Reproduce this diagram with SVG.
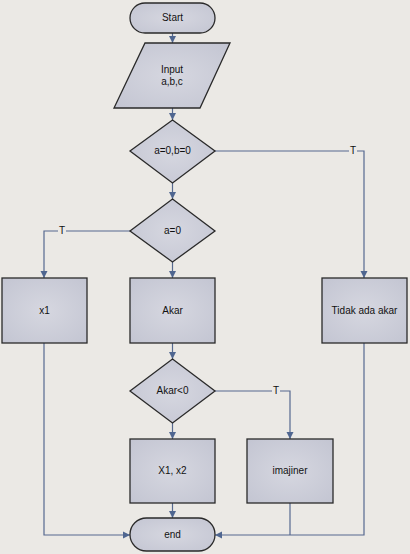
<svg xmlns="http://www.w3.org/2000/svg" width="410" height="554" viewBox="0 0 410 554">
<defs>
<radialGradient id="g" cx="50%" cy="50%" r="70%">
<stop offset="0" stop-color="#d6d7e0"/>
<stop offset="1" stop-color="#c3c5d2"/>
</radialGradient>
<marker id="a" markerWidth="8" markerHeight="8" refX="7" refY="4" orient="auto" markerUnits="userSpaceOnUse">
<path d="M0,0.5 L7,4 L0,7.5 Z" fill="#4f6690"/>
</marker>
</defs>
<style>
.n{fill:url(#g);stroke:#2a2a2a;stroke-width:1.3}
.t{font-family:"Liberation Sans",Arial,sans-serif;font-size:10px;fill:#111;text-anchor:middle;dominant-baseline:middle}
.c{fill:none;stroke:#56698f;stroke-width:1.2;marker-end:url(#a)}
.l{fill:none;stroke:#56698f;stroke-width:1.2}
.bg{fill:#ebe9e5}
</style>
<rect width="410" height="554" fill="#ebe9e5"/>
<g id="connectors">
<path class="c" d="M172.5,33 V43"/>
<path class="c" d="M172.5,108 V120"/>
<path class="c" d="M172.5,183 V199"/>
<path class="c" d="M172.5,262 V278"/>
<path class="c" d="M215,151 H364 V278"/>
<path class="c" d="M130,231 H44 V278"/>
<path class="c" d="M172.5,343 V359"/>
<path class="c" d="M172.5,423 V439"/>
<path class="c" d="M215,391 H290 V439"/>
<path class="c" d="M172.5,503 V518"/>
<path class="c" d="M44,343 V535 H130"/>
<path class="c" d="M364,343 V535 H215"/>
<path class="l" d="M290,503 V535"/>
<rect class="bg" x="349" y="146" width="8" height="10"/>
<text class="t" x="353" y="151">T</text>
<rect class="bg" x="58" y="226" width="8" height="10"/>
<text class="t" x="62" y="231">T</text>
<rect class="bg" x="272" y="386" width="8" height="10"/>
<text class="t" x="276" y="391">T</text>
</g>
<g id="start">
<rect class="n" x="130" y="3" width="85" height="30" rx="15" ry="15"/>
<text class="t" x="172.5" y="18">Start</text>
</g>
<g id="input">
<polygon class="n" points="145,43 230,43 200,108 114,108"/>
<text class="t" x="172" y="70">Input</text>
<text class="t" x="172" y="82">a,b,c</text>
</g>
<g id="dec1">
<polygon class="n" points="172.5,120 215,151 172.5,183 130,151"/>
<text class="t" x="172.5" y="151">a=0,b=0</text>
</g>
<g id="dec2">
<polygon class="n" points="172.5,199 215,231 172.5,262 130,231"/>
<text class="t" x="172.5" y="231">a=0</text>
</g>
<g id="x1">
<rect class="n" x="2" y="278" width="85" height="65"/>
<text class="t" x="44.5" y="311">x1</text>
</g>
<g id="akar">
<rect class="n" x="130" y="278" width="85" height="65"/>
<text class="t" x="172.5" y="311">Akar</text>
</g>
<g id="tidak">
<rect class="n" x="322" y="278" width="85" height="65"/>
<text class="t" x="364.5" y="311">Tidak ada akar</text>
</g>
<g id="dec3">
<polygon class="n" points="172.5,359 215,391 172.5,423 130,391"/>
<text class="t" x="172.5" y="391">Akar&lt;0</text>
</g>
<g id="x1x2">
<rect class="n" x="130" y="439" width="85" height="64"/>
<text class="t" x="172.5" y="471">X1, x2</text>
</g>
<g id="imajiner">
<rect class="n" x="247" y="439" width="86" height="64"/>
<text class="t" x="290" y="471">imajiner</text>
</g>
<g id="end">
<rect class="n" x="130" y="518" width="85" height="33" rx="16.5" ry="16.5"/>
<text class="t" x="172.5" y="535">end</text>
</g>
</svg>
